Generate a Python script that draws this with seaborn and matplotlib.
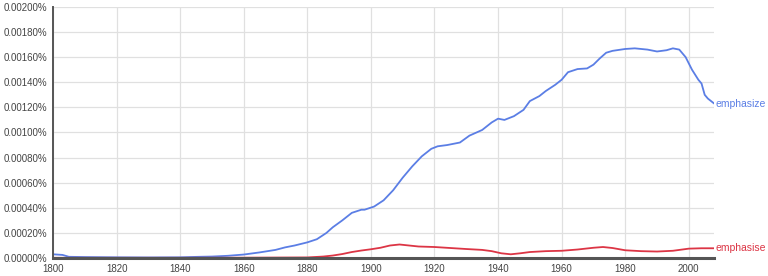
import matplotlib
matplotlib.use("Agg")
import matplotlib.pyplot as plt
import seaborn as sns
import pandas as pd
from matplotlib.ticker import FuncFormatter, MultipleLocator

emphasize_years = [1800, 1803, 1805, 1810, 1820, 1830, 1840, 1846, 1850, 1855, 1860, 1865, 1870, 1873,
                   1876, 1880, 1883, 1886, 1888, 1891, 1894, 1897, 1898, 1901, 1904, 1907, 1910, 1913,
                   1916, 1919, 1921, 1924, 1928, 1931, 1935, 1938, 1940, 1942, 1945, 1948, 1950, 1953,
                   1955, 1958, 1960, 1962, 1965, 1968, 1970, 1972, 1974, 1976, 1980, 1983, 1987, 1990,
                   1993, 1995, 1997, 1999, 2001, 2003, 2004, 2005, 2006, 2008]
emphasize_vals = [0.000030, 0.000025, 0.000010, 0.000008, 0.000006, 0.000005, 0.000006, 0.000010,
                  0.000012, 0.000018, 0.000028, 0.000045, 0.000065, 0.000085, 0.000100, 0.000125,
                  0.000150, 0.000200, 0.000245, 0.000300, 0.000360, 0.000385, 0.000385, 0.000410,
                  0.000460, 0.000540, 0.000640, 0.000730, 0.000810, 0.000870, 0.000890, 0.000900,
                  0.000920, 0.000975, 0.001020, 0.001080, 0.001110, 0.001100, 0.001130, 0.001180,
                  0.001250, 0.001290, 0.001330, 0.001380, 0.001420, 0.001480, 0.001505, 0.001510,
                  0.001540, 0.001590, 0.001635, 0.001650, 0.001665, 0.001670, 0.001660, 0.001645,
                  0.001655, 0.001670, 0.001660, 0.001600, 0.001500, 0.001420, 0.001390, 0.001300,
                  0.001270, 0.001230]

emphasise_years = [1800, 1820, 1840, 1860, 1880, 1885, 1888, 1891, 1894, 1897, 1900, 1903, 1906,
                   1909, 1912, 1915, 1920, 1925, 1930, 1935, 1938, 1941, 1944, 1947, 1950, 1955,
                   1960, 1965, 1970, 1973, 1976, 1980, 1985, 1990, 1995, 2000, 2004, 2008]
emphasise_vals = [0.000002, 0.000002, 0.000002, 0.000003, 0.000005, 0.000012, 0.000020, 0.000032,
                  0.000048, 0.000060, 0.000070, 0.000082, 0.000100, 0.000108, 0.000100, 0.000092,
                  0.000088, 0.000080, 0.000072, 0.000065, 0.000055, 0.000038, 0.000030, 0.000038,
                  0.000048, 0.000055, 0.000058, 0.000068, 0.000082, 0.000088, 0.000080, 0.000062,
                  0.000055, 0.000052, 0.000058, 0.000075, 0.000078, 0.000078]

series_names = ["emphasize", "emphasise"]
colors = {"emphasize": "#5b7ee5", "emphasise": "#dc3545"}

df = pd.concat([
    pd.DataFrame({"year": emphasize_years, "value": emphasize_vals, "word": "emphasize"}),
    pd.DataFrame({"year": emphasise_years, "value": emphasise_vals, "word": "emphasise"}),
])

sns.set_style("white")
plt.rcParams["font.family"] = ["Liberation Sans", "DejaVu Sans"]

fig = plt.figure(figsize=(7.68, 2.76), dpi=100)
ax = fig.add_axes([0.069, 0.065, 0.861, 0.91])

sns.lineplot(data=df, x="year", y="value", hue="word", palette=colors,
             hue_order=series_names, linewidth=1.3, legend=False, ax=ax)

ax.set_xlim(1800, 2008)
ax.set_ylim(0, 0.002)
ax.xaxis.set_major_locator(MultipleLocator(20))
ax.yaxis.set_major_locator(MultipleLocator(0.0002))
ax.yaxis.set_major_formatter(FuncFormatter(lambda v, p: f"{v:.5f}%"))
ax.grid(True, color="#e0e0e0", linewidth=0.9)
ax.set_axisbelow(True)
ax.set_xlabel("")
ax.set_ylabel("")
for s in ["top", "right"]:
    ax.spines[s].set_visible(False)
ax.spines["left"].set_color("#555555")
ax.spines["left"].set_linewidth(1.4)
ax.spines["bottom"].set_color("#555555")
ax.spines["bottom"].set_linewidth(2.2)
ax.tick_params(axis="both", labelsize=7, colors="#555555", labelcolor="#444444",
               length=3, width=0.8, pad=1)

ax.text(2008.5, emphasize_vals[-1], "emphasize", color=colors["emphasize"], fontsize=7.5,
        va="center", ha="left", clip_on=False)
ax.text(2008.5, emphasise_vals[-1], "emphasise", color=colors["emphasise"], fontsize=7.5,
        va="center", ha="left", clip_on=False)

fig.savefig("out.png", dpi=100)
